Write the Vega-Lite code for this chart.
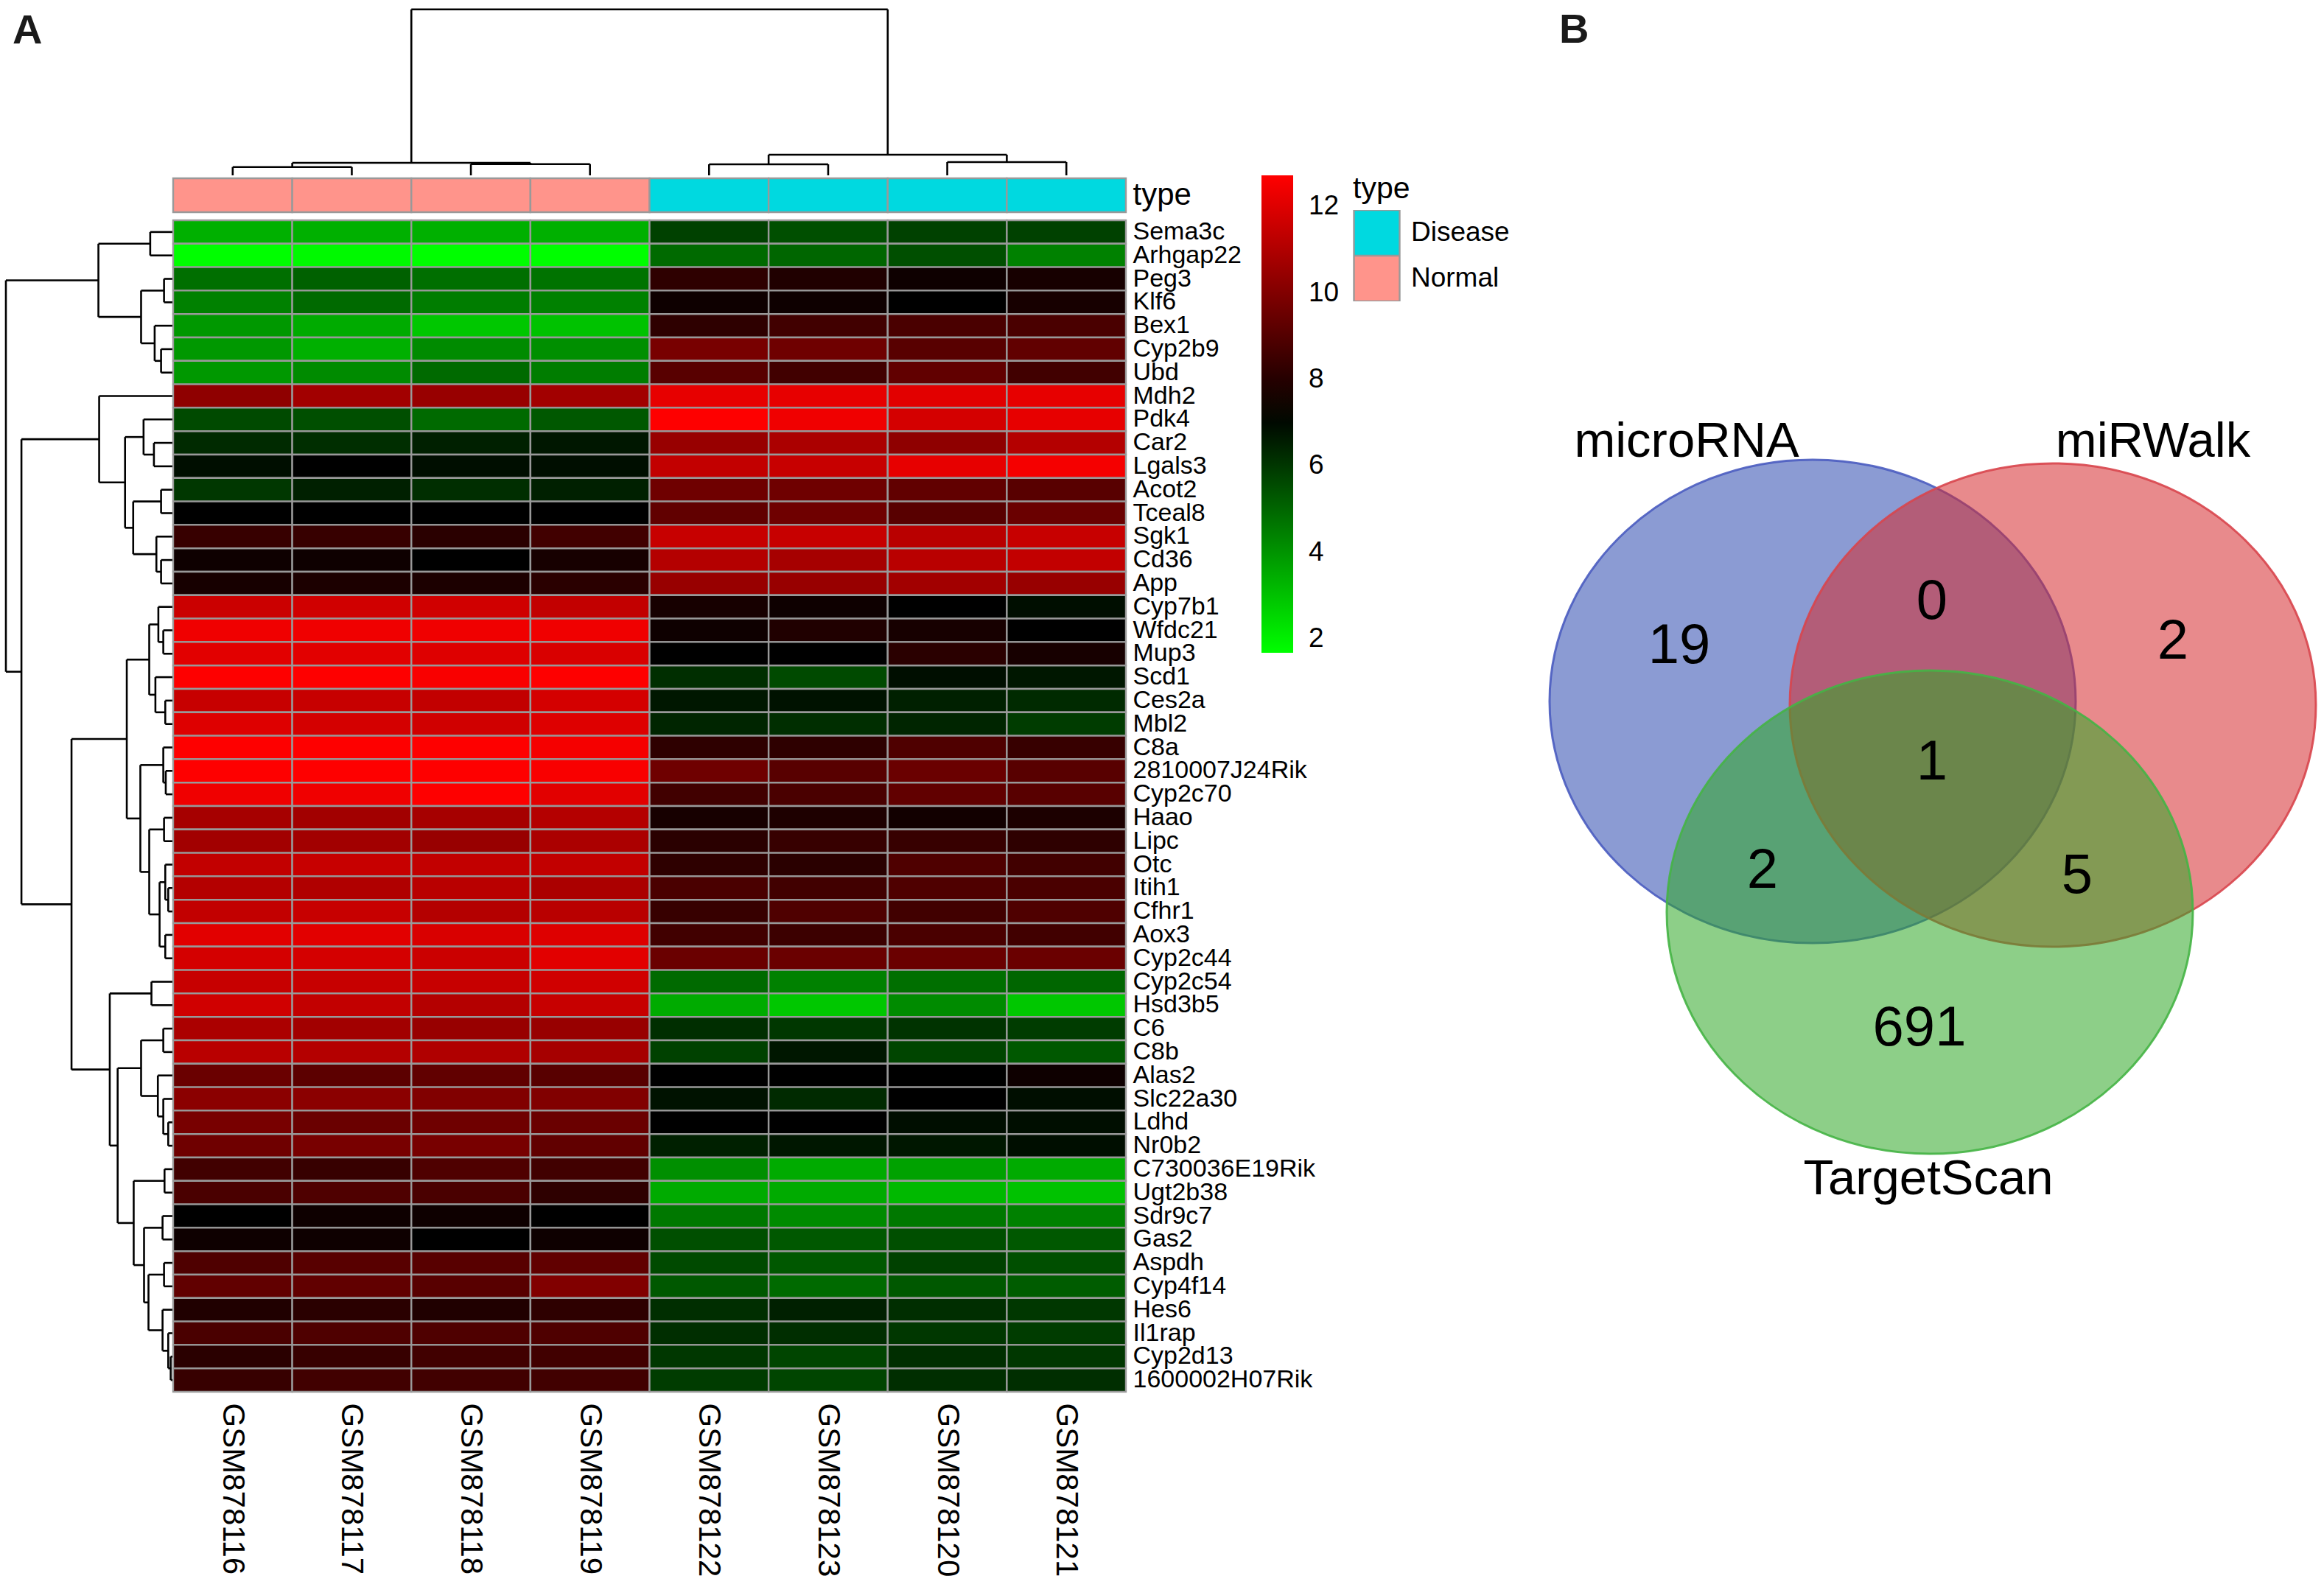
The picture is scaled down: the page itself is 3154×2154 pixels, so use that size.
{
  "$schema": "https://vega.github.io/schema/vega-lite/v6.json",
  "padding": {"left": 6, "top": 11, "right": 2, "bottom": 2},
  "background": "white",
  "config": {
    "view": {"stroke": null},
    "font": "Liberation Sans",
    "axis": {"labelFont": "Liberation Sans", "labelColor": "black", "domain": false, "ticks": false, "grid": false, "title": null},
    "legend": {"labelFont": "Liberation Sans", "titleFont": "Liberation Sans", "labelColor": "black", "titleColor": "black"},
    "title": {"font": "Liberation Sans", "color": "black"}
  },
  "datasets": {
    "colTree": [
      {"h": 11.3, "p1": 1, "p2": 2, "h1": 0, "h2": 0},
      {"h": 15.3, "p1": 3, "p2": 4, "h1": 0, "h2": 0},
      {"h": 17, "p1": 1.5, "p2": 3.5, "h1": 11.3, "h2": 15.3},
      {"h": 15, "p1": 5, "p2": 6, "h1": 0, "h2": 0},
      {"h": 18, "p1": 7, "p2": 8, "h1": 0, "h2": 0},
      {"h": 28, "p1": 5.5, "p2": 7.5, "h1": 15, "h2": 18},
      {"h": 225.3, "p1": 2.5, "p2": 6.5, "h1": 17, "h2": 28}
    ],
    "panelA": [{"label": "A", "x": -0.849, "y": 179}],
    "panelB": [{"label": "B", "x": 58.7, "y": -24.1}],
    "rowTree": [
      {"h": 90, "p1": 1, "p2": 2, "h1": 0, "h2": 0},
      {"h": 34, "p1": 3, "p2": 4, "h1": 0, "h2": 0},
      {"h": 46, "p1": 6, "p2": 7, "h1": 0, "h2": 0},
      {"h": 72, "p1": 5, "p2": 6.5, "h1": 0, "h2": 46},
      {"h": 127, "p1": 3.5, "p2": 5.75, "h1": 34, "h2": 72},
      {"h": 300, "p1": 1.5, "p2": 4.625, "h1": 90, "h2": 127},
      {"h": 75, "p1": 10, "p2": 11, "h1": 0, "h2": 0},
      {"h": 117, "p1": 9, "p2": 10.5, "h1": 0, "h2": 75},
      {"h": 46, "p1": 12, "p2": 13, "h1": 0, "h2": 0},
      {"h": 46, "p1": 15, "p2": 16, "h1": 0, "h2": 0},
      {"h": 65, "p1": 14, "p2": 15.5, "h1": 0, "h2": 46},
      {"h": 159, "p1": 12.5, "p2": 14.75, "h1": 46, "h2": 65},
      {"h": 192, "p1": 9.75, "p2": 13.625, "h1": 117, "h2": 159},
      {"h": 297, "p1": 8, "p2": 11.6875, "h1": 0, "h2": 192},
      {"h": 37, "p1": 18, "p2": 19, "h1": 0, "h2": 0},
      {"h": 57, "p1": 17, "p2": 18.5, "h1": 0, "h2": 37},
      {"h": 29, "p1": 21, "p2": 22, "h1": 0, "h2": 0},
      {"h": 69, "p1": 20, "p2": 21.5, "h1": 0, "h2": 29},
      {"h": 94, "p1": 17.75, "p2": 20.75, "h1": 57, "h2": 69},
      {"h": 27, "p1": 24, "p2": 25, "h1": 0, "h2": 0},
      {"h": 37, "p1": 23, "p2": 24.5, "h1": 0, "h2": 27},
      {"h": 34, "p1": 26, "p2": 27, "h1": 0, "h2": 0},
      {"h": 17, "p1": 29, "p2": 30, "h1": 0, "h2": 0},
      {"h": 29, "p1": 28, "p2": 29.5, "h1": 0, "h2": 17},
      {"h": 29, "p1": 31, "p2": 32, "h1": 0, "h2": 0},
      {"h": 52, "p1": 28.75, "p2": 31.5, "h1": 29, "h2": 29},
      {"h": 94, "p1": 26.5, "p2": 30.125, "h1": 34, "h2": 52},
      {"h": 130, "p1": 23.75, "p2": 28.3125, "h1": 37, "h2": 94},
      {"h": 185, "p1": 19.25, "p2": 26.03125, "h1": 94, "h2": 130},
      {"h": 85, "p1": 33, "p2": 34, "h1": 0, "h2": 0},
      {"h": 37, "p1": 35, "p2": 36, "h1": 0, "h2": 0},
      {"h": 17, "p1": 39, "p2": 40, "h1": 0, "h2": 0},
      {"h": 37, "p1": 38, "p2": 39.5, "h1": 0, "h2": 17},
      {"h": 59, "p1": 37, "p2": 38.75, "h1": 0, "h2": 37},
      {"h": 127, "p1": 35.5, "p2": 37.875, "h1": 37, "h2": 59},
      {"h": 32, "p1": 41, "p2": 42, "h1": 0, "h2": 0},
      {"h": 40, "p1": 43, "p2": 44, "h1": 0, "h2": 0},
      {"h": 34, "p1": 45, "p2": 46, "h1": 0, "h2": 0},
      {"h": 7, "p1": 49, "p2": 50, "h1": 0, "h2": 0},
      {"h": 17, "p1": 48, "p2": 49.5, "h1": 0, "h2": 7},
      {"h": 40, "p1": 47, "p2": 48.75, "h1": 0, "h2": 17},
      {"h": 97, "p1": 45.5, "p2": 47.875, "h1": 34, "h2": 40},
      {"h": 115, "p1": 43.5, "p2": 46.6875, "h1": 40, "h2": 97},
      {"h": 157, "p1": 41.5, "p2": 45.09375, "h1": 32, "h2": 115},
      {"h": 222, "p1": 36.6875, "p2": 43.296875, "h1": 127, "h2": 157},
      {"h": 254, "p1": 33.5, "p2": 39.9921875, "h1": 85, "h2": 222},
      {"h": 409, "p1": 22.640625, "p2": 36.74609, "h1": 185, "h2": 254},
      {"h": 612, "p1": 9.84375, "p2": 29.69336, "h1": 297, "h2": 409},
      {"h": 675, "p1": 3.0625, "p2": 19.76855, "h1": 300, "h2": 612}
    ],
    "types": [
      {"s": "GSM878116", "type": "Normal", "track": "type"},
      {"s": "GSM878117", "type": "Normal", "track": "type"},
      {"s": "GSM878118", "type": "Normal", "track": "type"},
      {"s": "GSM878119", "type": "Normal", "track": "type"},
      {"s": "GSM878122", "type": "Disease", "track": "type"},
      {"s": "GSM878123", "type": "Disease", "track": "type"},
      {"s": "GSM878120", "type": "Disease", "track": "type"},
      {"s": "GSM878121", "type": "Disease", "track": "type"}
    ],
    "cells": [
      {"g":"Sema3c","s":"GSM878116","v":3.4},{"g":"Sema3c","s":"GSM878117","v":3.4},{"g":"Sema3c","s":"GSM878118","v":3.4},{"g":"Sema3c","s":"GSM878119","v":3.4},{"g":"Sema3c","s":"GSM878122","v":5.8},{"g":"Sema3c","s":"GSM878123","v":5.5},{"g":"Sema3c","s":"GSM878120","v":5.8},{"g":"Sema3c","s":"GSM878121","v":5.8},
      {"g":"Arhgap22","s":"GSM878116","v":1.7},{"g":"Arhgap22","s":"GSM878117","v":1.8},{"g":"Arhgap22","s":"GSM878118","v":1.7},{"g":"Arhgap22","s":"GSM878119","v":1.7},{"g":"Arhgap22","s":"GSM878122","v":4.9},{"g":"Arhgap22","s":"GSM878123","v":5.0},{"g":"Arhgap22","s":"GSM878120","v":5.5},{"g":"Arhgap22","s":"GSM878121","v":4.4},
      {"g":"Peg3","s":"GSM878116","v":4.8},{"g":"Peg3","s":"GSM878117","v":5.1},{"g":"Peg3","s":"GSM878118","v":4.8},{"g":"Peg3","s":"GSM878119","v":4.7},{"g":"Peg3","s":"GSM878122","v":8.2},{"g":"Peg3","s":"GSM878123","v":7.9},{"g":"Peg3","s":"GSM878120","v":7.5},{"g":"Peg3","s":"GSM878121","v":7.7},
      {"g":"Klf6","s":"GSM878116","v":4.4},{"g":"Klf6","s":"GSM878117","v":4.9},{"g":"Klf6","s":"GSM878118","v":4.5},{"g":"Klf6","s":"GSM878119","v":4.4},{"g":"Klf6","s":"GSM878122","v":7.5},{"g":"Klf6","s":"GSM878123","v":7.5},{"g":"Klf6","s":"GSM878120","v":7.2},{"g":"Klf6","s":"GSM878121","v":7.7},
      {"g":"Bex1","s":"GSM878116","v":3.9},{"g":"Bex1","s":"GSM878117","v":3.5},{"g":"Bex1","s":"GSM878118","v":2.9},{"g":"Bex1","s":"GSM878119","v":3.0},{"g":"Bex1","s":"GSM878122","v":8.2},{"g":"Bex1","s":"GSM878123","v":8.6},{"g":"Bex1","s":"GSM878120","v":8.8},{"g":"Bex1","s":"GSM878121","v":8.8},
      {"g":"Cyp2b9","s":"GSM878116","v":3.9},{"g":"Cyp2b9","s":"GSM878117","v":3.4},{"g":"Cyp2b9","s":"GSM878118","v":4.2},{"g":"Cyp2b9","s":"GSM878119","v":4.1},{"g":"Cyp2b9","s":"GSM878122","v":9.8},{"g":"Cyp2b9","s":"GSM878123","v":9.6},{"g":"Cyp2b9","s":"GSM878120","v":9.1},{"g":"Cyp2b9","s":"GSM878121","v":9.3},
      {"g":"Ubd","s":"GSM878116","v":3.9},{"g":"Ubd","s":"GSM878117","v":4.2},{"g":"Ubd","s":"GSM878118","v":4.9},{"g":"Ubd","s":"GSM878119","v":4.5},{"g":"Ubd","s":"GSM878122","v":9.1},{"g":"Ubd","s":"GSM878123","v":8.6},{"g":"Ubd","s":"GSM878120","v":9.3},{"g":"Ubd","s":"GSM878121","v":8.6},
      {"g":"Mdh2","s":"GSM878116","v":10.3},{"g":"Mdh2","s":"GSM878117","v":10.7},{"g":"Mdh2","s":"GSM878118","v":10.5},{"g":"Mdh2","s":"GSM878119","v":10.7},{"g":"Mdh2","s":"GSM878122","v":12.2},{"g":"Mdh2","s":"GSM878123","v":12.2},{"g":"Mdh2","s":"GSM878120","v":12.1},{"g":"Mdh2","s":"GSM878121","v":12.2},
      {"g":"Pdk4","s":"GSM878116","v":5.6},{"g":"Pdk4","s":"GSM878117","v":5.5},{"g":"Pdk4","s":"GSM878118","v":4.9},{"g":"Pdk4","s":"GSM878119","v":5.3},{"g":"Pdk4","s":"GSM878122","v":12.7},{"g":"Pdk4","s":"GSM878123","v":12.4},{"g":"Pdk4","s":"GSM878120","v":11.8},{"g":"Pdk4","s":"GSM878121","v":12.2},
      {"g":"Car2","s":"GSM878116","v":6.3},{"g":"Car2","s":"GSM878117","v":6.2},{"g":"Car2","s":"GSM878118","v":6.5},{"g":"Car2","s":"GSM878119","v":6.7},{"g":"Car2","s":"GSM878122","v":10.5},{"g":"Car2","s":"GSM878123","v":10.9},{"g":"Car2","s":"GSM878120","v":10.3},{"g":"Car2","s":"GSM878121","v":11.1},
      {"g":"Lgals3","s":"GSM878116","v":6.9},{"g":"Lgals3","s":"GSM878117","v":7.2},{"g":"Lgals3","s":"GSM878118","v":6.9},{"g":"Lgals3","s":"GSM878119","v":6.9},{"g":"Lgals3","s":"GSM878122","v":11.4},{"g":"Lgals3","s":"GSM878123","v":11.5},{"g":"Lgals3","s":"GSM878120","v":12.2},{"g":"Lgals3","s":"GSM878121","v":12.5},
      {"g":"Acot2","s":"GSM878116","v":6.0},{"g":"Acot2","s":"GSM878117","v":6.5},{"g":"Acot2","s":"GSM878118","v":6.2},{"g":"Acot2","s":"GSM878119","v":6.5},{"g":"Acot2","s":"GSM878122","v":9.6},{"g":"Acot2","s":"GSM878123","v":9.6},{"g":"Acot2","s":"GSM878120","v":9.3},{"g":"Acot2","s":"GSM878121","v":9.1},
      {"g":"Tceal8","s":"GSM878116","v":7.2},{"g":"Tceal8","s":"GSM878117","v":7.2},{"g":"Tceal8","s":"GSM878118","v":7.2},{"g":"Tceal8","s":"GSM878119","v":7.2},{"g":"Tceal8","s":"GSM878122","v":9.3},{"g":"Tceal8","s":"GSM878123","v":9.6},{"g":"Tceal8","s":"GSM878120","v":9.1},{"g":"Tceal8","s":"GSM878121","v":9.5},
      {"g":"Sgk1","s":"GSM878116","v":8.4},{"g":"Sgk1","s":"GSM878117","v":8.4},{"g":"Sgk1","s":"GSM878118","v":8.1},{"g":"Sgk1","s":"GSM878119","v":8.6},{"g":"Sgk1","s":"GSM878122","v":11.5},{"g":"Sgk1","s":"GSM878123","v":11.5},{"g":"Sgk1","s":"GSM878120","v":11.2},{"g":"Sgk1","s":"GSM878121","v":11.5},
      {"g":"Cd36","s":"GSM878116","v":7.5},{"g":"Cd36","s":"GSM878117","v":7.5},{"g":"Cd36","s":"GSM878118","v":7.2},{"g":"Cd36","s":"GSM878119","v":7.7},{"g":"Cd36","s":"GSM878122","v":11.1},{"g":"Cd36","s":"GSM878123","v":10.8},{"g":"Cd36","s":"GSM878120","v":11.2},{"g":"Cd36","s":"GSM878121","v":11.4},
      {"g":"App","s":"GSM878116","v":7.7},{"g":"App","s":"GSM878117","v":7.8},{"g":"App","s":"GSM878118","v":7.8},{"g":"App","s":"GSM878119","v":8.1},{"g":"App","s":"GSM878122","v":10.5},{"g":"App","s":"GSM878123","v":10.5},{"g":"App","s":"GSM878120","v":10.7},{"g":"App","s":"GSM878121","v":10.5},
      {"g":"Cyp7b1","s":"GSM878116","v":11.6},{"g":"Cyp7b1","s":"GSM878117","v":11.7},{"g":"Cyp7b1","s":"GSM878118","v":11.7},{"g":"Cyp7b1","s":"GSM878119","v":11.4},{"g":"Cyp7b1","s":"GSM878122","v":7.7},{"g":"Cyp7b1","s":"GSM878123","v":7.5},{"g":"Cyp7b1","s":"GSM878120","v":7.2},{"g":"Cyp7b1","s":"GSM878121","v":6.9},
      {"g":"Wfdc21","s":"GSM878116","v":12.4},{"g":"Wfdc21","s":"GSM878117","v":12.4},{"g":"Wfdc21","s":"GSM878118","v":12.4},{"g":"Wfdc21","s":"GSM878119","v":12.4},{"g":"Wfdc21","s":"GSM878122","v":7.5},{"g":"Wfdc21","s":"GSM878123","v":7.9},{"g":"Wfdc21","s":"GSM878120","v":7.7},{"g":"Wfdc21","s":"GSM878121","v":7.2},
      {"g":"Mup3","s":"GSM878116","v":12.1},{"g":"Mup3","s":"GSM878117","v":12.1},{"g":"Mup3","s":"GSM878118","v":12.0},{"g":"Mup3","s":"GSM878119","v":11.9},{"g":"Mup3","s":"GSM878122","v":7.2},{"g":"Mup3","s":"GSM878123","v":7.2},{"g":"Mup3","s":"GSM878120","v":8.1},{"g":"Mup3","s":"GSM878121","v":7.7},
      {"g":"Scd1","s":"GSM878116","v":12.7},{"g":"Scd1","s":"GSM878117","v":12.7},{"g":"Scd1","s":"GSM878118","v":12.6},{"g":"Scd1","s":"GSM878119","v":12.7},{"g":"Scd1","s":"GSM878122","v":6.2},{"g":"Scd1","s":"GSM878123","v":5.6},{"g":"Scd1","s":"GSM878120","v":6.9},{"g":"Scd1","s":"GSM878121","v":6.7},
      {"g":"Ces2a","s":"GSM878116","v":11.5},{"g":"Ces2a","s":"GSM878117","v":11.5},{"g":"Ces2a","s":"GSM878118","v":11.4},{"g":"Ces2a","s":"GSM878119","v":11.8},{"g":"Ces2a","s":"GSM878122","v":6.7},{"g":"Ces2a","s":"GSM878123","v":6.8},{"g":"Ces2a","s":"GSM878120","v":6.5},{"g":"Ces2a","s":"GSM878121","v":6.3},
      {"g":"Mbl2","s":"GSM878116","v":12.0},{"g":"Mbl2","s":"GSM878117","v":11.8},{"g":"Mbl2","s":"GSM878118","v":11.7},{"g":"Mbl2","s":"GSM878119","v":12.0},{"g":"Mbl2","s":"GSM878122","v":6.4},{"g":"Mbl2","s":"GSM878123","v":6.2},{"g":"Mbl2","s":"GSM878120","v":6.4},{"g":"Mbl2","s":"GSM878121","v":5.9},
      {"g":"C8a","s":"GSM878116","v":12.7},{"g":"C8a","s":"GSM878117","v":12.7},{"g":"C8a","s":"GSM878118","v":12.7},{"g":"C8a","s":"GSM878119","v":12.5},{"g":"C8a","s":"GSM878122","v":8.2},{"g":"C8a","s":"GSM878123","v":8.2},{"g":"C8a","s":"GSM878120","v":8.9},{"g":"C8a","s":"GSM878121","v":8.4},
      {"g":"2810007J24Rik","s":"GSM878116","v":12.7},{"g":"2810007J24Rik","s":"GSM878117","v":12.7},{"g":"2810007J24Rik","s":"GSM878118","v":12.7},{"g":"2810007J24Rik","s":"GSM878119","v":12.6},{"g":"2810007J24Rik","s":"GSM878122","v":9.6},{"g":"2810007J24Rik","s":"GSM878123","v":9.1},{"g":"2810007J24Rik","s":"GSM878120","v":9.5},{"g":"2810007J24Rik","s":"GSM878121","v":9.1},
      {"g":"Cyp2c70","s":"GSM878116","v":12.4},{"g":"Cyp2c70","s":"GSM878117","v":12.4},{"g":"Cyp2c70","s":"GSM878118","v":12.7},{"g":"Cyp2c70","s":"GSM878119","v":12.1},{"g":"Cyp2c70","s":"GSM878122","v":8.6},{"g":"Cyp2c70","s":"GSM878123","v":8.8},{"g":"Cyp2c70","s":"GSM878120","v":9.3},{"g":"Cyp2c70","s":"GSM878121","v":9.1},
      {"g":"Haao","s":"GSM878116","v":10.8},{"g":"Haao","s":"GSM878117","v":10.7},{"g":"Haao","s":"GSM878118","v":10.8},{"g":"Haao","s":"GSM878119","v":11.1},{"g":"Haao","s":"GSM878122","v":7.7},{"g":"Haao","s":"GSM878123","v":7.85},{"g":"Haao","s":"GSM878120","v":7.6},{"g":"Haao","s":"GSM878121","v":7.8},
      {"g":"Lipc","s":"GSM878116","v":10.7},{"g":"Lipc","s":"GSM878117","v":10.7},{"g":"Lipc","s":"GSM878118","v":10.5},{"g":"Lipc","s":"GSM878119","v":10.9},{"g":"Lipc","s":"GSM878122","v":8.1},{"g":"Lipc","s":"GSM878123","v":8.4},{"g":"Lipc","s":"GSM878120","v":8.4},{"g":"Lipc","s":"GSM878121","v":8.2},
      {"g":"Otc","s":"GSM878116","v":11.4},{"g":"Otc","s":"GSM878117","v":11.5},{"g":"Otc","s":"GSM878118","v":11.4},{"g":"Otc","s":"GSM878119","v":11.4},{"g":"Otc","s":"GSM878122","v":8.2},{"g":"Otc","s":"GSM878123","v":8.1},{"g":"Otc","s":"GSM878120","v":8.9},{"g":"Otc","s":"GSM878121","v":8.6},
      {"g":"Itih1","s":"GSM878116","v":11.1},{"g":"Itih1","s":"GSM878117","v":11.0},{"g":"Itih1","s":"GSM878118","v":11.2},{"g":"Itih1","s":"GSM878119","v":10.9},{"g":"Itih1","s":"GSM878122","v":8.8},{"g":"Itih1","s":"GSM878123","v":8.6},{"g":"Itih1","s":"GSM878120","v":8.9},{"g":"Itih1","s":"GSM878121","v":8.8},
      {"g":"Cfhr1","s":"GSM878116","v":11.4},{"g":"Cfhr1","s":"GSM878117","v":11.5},{"g":"Cfhr1","s":"GSM878118","v":11.1},{"g":"Cfhr1","s":"GSM878119","v":11.2},{"g":"Cfhr1","s":"GSM878122","v":8.4},{"g":"Cfhr1","s":"GSM878123","v":8.9},{"g":"Cfhr1","s":"GSM878120","v":8.6},{"g":"Cfhr1","s":"GSM878121","v":8.9},
      {"g":"Aox3","s":"GSM878116","v":12.1},{"g":"Aox3","s":"GSM878117","v":12.1},{"g":"Aox3","s":"GSM878118","v":11.9},{"g":"Aox3","s":"GSM878119","v":12.0},{"g":"Aox3","s":"GSM878122","v":8.6},{"g":"Aox3","s":"GSM878123","v":8.5},{"g":"Aox3","s":"GSM878120","v":8.8},{"g":"Aox3","s":"GSM878121","v":8.6},
      {"g":"Cyp2c44","s":"GSM878116","v":11.8},{"g":"Cyp2c44","s":"GSM878117","v":11.8},{"g":"Cyp2c44","s":"GSM878118","v":11.6},{"g":"Cyp2c44","s":"GSM878119","v":12.1},{"g":"Cyp2c44","s":"GSM878122","v":9.5},{"g":"Cyp2c44","s":"GSM878123","v":9.5},{"g":"Cyp2c44","s":"GSM878120","v":9.5},{"g":"Cyp2c44","s":"GSM878121","v":9.5},
      {"g":"Cyp2c54","s":"GSM878116","v":11.5},{"g":"Cyp2c54","s":"GSM878117","v":11.5},{"g":"Cyp2c54","s":"GSM878118","v":11.5},{"g":"Cyp2c54","s":"GSM878119","v":11.7},{"g":"Cyp2c54","s":"GSM878122","v":4.9},{"g":"Cyp2c54","s":"GSM878123","v":4.4},{"g":"Cyp2c54","s":"GSM878120","v":4.8},{"g":"Cyp2c54","s":"GSM878121","v":5.0},
      {"g":"Hsd3b5","s":"GSM878116","v":11.7},{"g":"Hsd3b5","s":"GSM878117","v":11.4},{"g":"Hsd3b5","s":"GSM878118","v":11.1},{"g":"Hsd3b5","s":"GSM878119","v":11.5},{"g":"Hsd3b5","s":"GSM878122","v":3.5},{"g":"Hsd3b5","s":"GSM878123","v":2.9},{"g":"Hsd3b5","s":"GSM878120","v":4.2},{"g":"Hsd3b5","s":"GSM878121","v":2.9},
      {"g":"C6","s":"GSM878116","v":10.9},{"g":"C6","s":"GSM878117","v":10.7},{"g":"C6","s":"GSM878118","v":10.5},{"g":"C6","s":"GSM878119","v":10.5},{"g":"C6","s":"GSM878122","v":6.2},{"g":"C6","s":"GSM878123","v":6.0},{"g":"C6","s":"GSM878120","v":6.1},{"g":"C6","s":"GSM878121","v":5.9},
      {"g":"C8b","s":"GSM878116","v":11.2},{"g":"C8b","s":"GSM878117","v":11.1},{"g":"C8b","s":"GSM878118","v":11.0},{"g":"C8b","s":"GSM878119","v":10.8},{"g":"C8b","s":"GSM878122","v":5.8},{"g":"C8b","s":"GSM878123","v":6.7},{"g":"C8b","s":"GSM878120","v":5.7},{"g":"C8b","s":"GSM878121","v":5.3},
      {"g":"Alas2","s":"GSM878116","v":9.5},{"g":"Alas2","s":"GSM878117","v":9.2},{"g":"Alas2","s":"GSM878118","v":9.3},{"g":"Alas2","s":"GSM878119","v":9.1},{"g":"Alas2","s":"GSM878122","v":7.2},{"g":"Alas2","s":"GSM878123","v":7.2},{"g":"Alas2","s":"GSM878120","v":7.2},{"g":"Alas2","s":"GSM878121","v":7.5},
      {"g":"Slc22a30","s":"GSM878116","v":10.2},{"g":"Slc22a30","s":"GSM878117","v":10.2},{"g":"Slc22a30","s":"GSM878118","v":10.0},{"g":"Slc22a30","s":"GSM878119","v":10.0},{"g":"Slc22a30","s":"GSM878122","v":6.8},{"g":"Slc22a30","s":"GSM878123","v":6.3},{"g":"Slc22a30","s":"GSM878120","v":7.2},{"g":"Slc22a30","s":"GSM878121","v":6.9},
      {"g":"Ldhd","s":"GSM878116","v":9.8},{"g":"Ldhd","s":"GSM878117","v":9.5},{"g":"Ldhd","s":"GSM878118","v":9.6},{"g":"Ldhd","s":"GSM878119","v":9.5},{"g":"Ldhd","s":"GSM878122","v":7.2},{"g":"Ldhd","s":"GSM878123","v":7.2},{"g":"Ldhd","s":"GSM878120","v":6.9},{"g":"Ldhd","s":"GSM878121","v":6.9},
      {"g":"Nr0b2","s":"GSM878116","v":9.6},{"g":"Nr0b2","s":"GSM878117","v":9.8},{"g":"Nr0b2","s":"GSM878118","v":9.8},{"g":"Nr0b2","s":"GSM878119","v":9.3},{"g":"Nr0b2","s":"GSM878122","v":6.5},{"g":"Nr0b2","s":"GSM878123","v":6.7},{"g":"Nr0b2","s":"GSM878120","v":6.7},{"g":"Nr0b2","s":"GSM878121","v":6.9},
      {"g":"C730036E19Rik","s":"GSM878116","v":8.6},{"g":"C730036E19Rik","s":"GSM878117","v":8.4},{"g":"C730036E19Rik","s":"GSM878118","v":8.9},{"g":"C730036E19Rik","s":"GSM878119","v":8.6},{"g":"C730036E19Rik","s":"GSM878122","v":4.1},{"g":"C730036E19Rik","s":"GSM878123","v":3.5},{"g":"C730036E19Rik","s":"GSM878120","v":3.7},{"g":"C730036E19Rik","s":"GSM878121","v":3.5},
      {"g":"Ugt2b38","s":"GSM878116","v":8.8},{"g":"Ugt2b38","s":"GSM878117","v":8.9},{"g":"Ugt2b38","s":"GSM878118","v":8.8},{"g":"Ugt2b38","s":"GSM878119","v":8.2},{"g":"Ugt2b38","s":"GSM878122","v":3.5},{"g":"Ugt2b38","s":"GSM878123","v":3.5},{"g":"Ugt2b38","s":"GSM878120","v":3.2},{"g":"Ugt2b38","s":"GSM878121","v":3.0},
      {"g":"Sdr9c7","s":"GSM878116","v":7.2},{"g":"Sdr9c7","s":"GSM878117","v":7.5},{"g":"Sdr9c7","s":"GSM878118","v":7.5},{"g":"Sdr9c7","s":"GSM878119","v":7.2},{"g":"Sdr9c7","s":"GSM878122","v":4.6},{"g":"Sdr9c7","s":"GSM878123","v":4.2},{"g":"Sdr9c7","s":"GSM878120","v":4.6},{"g":"Sdr9c7","s":"GSM878121","v":4.4},
      {"g":"Gas2","s":"GSM878116","v":7.5},{"g":"Gas2","s":"GSM878117","v":7.5},{"g":"Gas2","s":"GSM878118","v":7.2},{"g":"Gas2","s":"GSM878119","v":7.5},{"g":"Gas2","s":"GSM878122","v":5.5},{"g":"Gas2","s":"GSM878123","v":5.3},{"g":"Gas2","s":"GSM878120","v":5.5},{"g":"Gas2","s":"GSM878121","v":5.3},
      {"g":"Aspdh","s":"GSM878116","v":8.9},{"g":"Aspdh","s":"GSM878117","v":9.1},{"g":"Aspdh","s":"GSM878118","v":9.1},{"g":"Aspdh","s":"GSM878119","v":9.3},{"g":"Aspdh","s":"GSM878122","v":5.6},{"g":"Aspdh","s":"GSM878123","v":5.3},{"g":"Aspdh","s":"GSM878120","v":5.8},{"g":"Aspdh","s":"GSM878121","v":5.5},
      {"g":"Cyp4f14","s":"GSM878116","v":9.3},{"g":"Cyp4f14","s":"GSM878117","v":9.3},{"g":"Cyp4f14","s":"GSM878118","v":9.1},{"g":"Cyp4f14","s":"GSM878119","v":10.0},{"g":"Cyp4f14","s":"GSM878122","v":5.3},{"g":"Cyp4f14","s":"GSM878123","v":4.9},{"g":"Cyp4f14","s":"GSM878120","v":5.3},{"g":"Cyp4f14","s":"GSM878121","v":5.2},
      {"g":"Hes6","s":"GSM878116","v":7.9},{"g":"Hes6","s":"GSM878117","v":8.1},{"g":"Hes6","s":"GSM878118","v":7.9},{"g":"Hes6","s":"GSM878119","v":8.2},{"g":"Hes6","s":"GSM878122","v":6.2},{"g":"Hes6","s":"GSM878123","v":6.5},{"g":"Hes6","s":"GSM878120","v":6.2},{"g":"Hes6","s":"GSM878121","v":6.0},
      {"g":"Il1rap","s":"GSM878116","v":8.8},{"g":"Il1rap","s":"GSM878117","v":8.9},{"g":"Il1rap","s":"GSM878118","v":8.9},{"g":"Il1rap","s":"GSM878119","v":8.9},{"g":"Il1rap","s":"GSM878122","v":6.2},{"g":"Il1rap","s":"GSM878123","v":6.2},{"g":"Il1rap","s":"GSM878120","v":6.0},{"g":"Il1rap","s":"GSM878121","v":5.9},
      {"g":"Cyp2d13","s":"GSM878116","v":8.1},{"g":"Cyp2d13","s":"GSM878117","v":8.4},{"g":"Cyp2d13","s":"GSM878118","v":8.6},{"g":"Cyp2d13","s":"GSM878119","v":8.6},{"g":"Cyp2d13","s":"GSM878122","v":6.0},{"g":"Cyp2d13","s":"GSM878123","v":5.7},{"g":"Cyp2d13","s":"GSM878120","v":6.2},{"g":"Cyp2d13","s":"GSM878121","v":6.0},
      {"g":"1600002H07Rik","s":"GSM878116","v":8.4},{"g":"1600002H07Rik","s":"GSM878117","v":8.6},{"g":"1600002H07Rik","s":"GSM878118","v":8.6},{"g":"1600002H07Rik","s":"GSM878119","v":8.6},{"g":"1600002H07Rik","s":"GSM878122","v":5.9},{"g":"1600002H07Rik","s":"GSM878123","v":5.7},{"g":"1600002H07Rik","s":"GSM878120","v":6.2},{"g":"1600002H07Rik","s":"GSM878121","v":6.2}
    ],
    "sets": [
      {"set": "microRNA", "cx": 93.1, "cy": 65.3},
      {"set": "miRWalk", "cx": 125.7, "cy": 65.8},
      {"set": "TargetScan", "cx": 109.0, "cy": 93.9}
    ],
    "setLabels": [
      {"label": "microRNA", "x": 76.0, "y": 30.1},
      {"label": "miRWalk", "x": 139.3, "y": 30.1},
      {"label": "TargetScan", "x": 108.8, "y": 130.2}
    ],
    "counts": [
      {"label": "19", "x": 75.0, "y": 57.8},
      {"label": "0", "x": 109.3, "y": 51.8},
      {"label": "2", "x": 142.0, "y": 57.2},
      {"label": "1", "x": 109.3, "y": 73.6},
      {"label": "2", "x": 86.3, "y": 88.3},
      {"label": "5", "x": 129.0, "y": 89.0},
      {"label": "691", "x": 107.6, "y": 109.7}
    ]
  },
  "columns": 3,
  "spacing": {"row": 11, "column": 1},
  "bounds": "flush",
  "concat": [
    {
      "width": 226, "height": 219,
      "data": {"values": [{}]},
      "mark": {"type": "text", "text": ""},
      "encoding": {}
    },
    {
      "width": 1293, "height": 219,
      "layer": [
        {
          "data": {"name": "colTree"},
          "mark": {"type": "rule", "strokeWidth": 2.6, "color": "black"},
          "encoding": {
            "x": {"field": "p1", "type": "quantitative", "scale": {"domain": [0.5, 8.5], "nice": false, "zero": false}, "axis": null},
            "x2": {"field": "p2"},
            "y": {"field": "h", "type": "quantitative", "scale": {"domain": [7, 226], "nice": false, "zero": false}, "axis": null}
          }
        },
        {
          "data": {"name": "colTree"},
          "mark": {"type": "rule", "strokeWidth": 2.6, "color": "black"},
          "encoding": {
            "x": {"field": "p1", "type": "quantitative", "axis": null},
            "y": {"field": "h", "type": "quantitative", "axis": null},
            "y2": {"field": "h1"}
          }
        },
        {
          "data": {"name": "colTree"},
          "mark": {"type": "rule", "strokeWidth": 2.6, "color": "black"},
          "encoding": {
            "x": {"field": "p2", "type": "quantitative", "axis": null},
            "y": {"field": "h", "type": "quantitative", "axis": null},
            "y2": {"field": "h2"}
          }
        },
        {
          "data": {"name": "panelA"},
          "mark": {"type": "text", "fontSize": 56, "fontWeight": "bold", "align": "left", "baseline": "alphabetic", "color": "#1a1a1a"},
          "encoding": {
            "x": {"field": "x", "type": "quantitative", "axis": null},
            "y": {"field": "y", "type": "quantitative", "axis": null},
            "text": {"field": "label"}
          }
        }
      ]
    },
    {
      "width": 1612, "height": 219,
      "data": {"values": [{}]},
      "mark": {"type": "text", "text": ""},
      "encoding": {}
    },
    {
      "width": 226, "height": 46,
      "data": {"values": [{}]},
      "mark": {"type": "text", "text": ""},
      "encoding": {}
    },
    {
      "width": 1293, "height": 46,
      "data": {"name": "types"},
      "mark": {"type": "rect", "stroke": "#999999", "strokeWidth": 2.4},
      "encoding": {
        "x": {"field": "s", "type": "nominal", "sort": ["GSM878116","GSM878117","GSM878118","GSM878119","GSM878122","GSM878123","GSM878120","GSM878121"], "scale": {"paddingInner": 0, "paddingOuter": 0}, "axis": null},
        "y": {"field": "track", "type": "nominal", "scale": {"paddingInner": 0, "paddingOuter": 0}, "axis": {"orient": "right", "labelFontSize": 42, "labelPadding": 9, "title": null}},
        "color": {
          "field": "type", "type": "nominal",
          "scale": {"domain": ["Disease", "Normal"], "range": ["#00D9E0", "#FF948B"]},
          "legend": {"orient": "none", "legendX": 1601, "legendY": -5, "title": "type", "titleFontSize": 41, "titleFontWeight": "normal", "titlePadding": 7, "labelFontSize": 37, "labelOffset": 14, "symbolType": "square", "symbolSize": 3844, "symbolStrokeColor": "#999999", "symbolStrokeWidth": 2.4, "symbolOpacity": 1, "clipHeight": 62, "rowPadding": 0, "padding": 0}
        }
      }
    },
    {
      "width": 1612, "height": 46,
      "data": {"values": [{}]},
      "mark": {"type": "text", "text": ""},
      "encoding": {}
    },
    {
      "width": 226, "height": 1590,
      "data": {"name": "rowTree"},
      "layer": [
        {
          "mark": {"type": "rule", "strokeWidth": 2.6, "color": "black"},
          "encoding": {
            "x": {"field": "h", "type": "quantitative", "scale": {"domain": [0, 675], "reverse": true, "nice": false, "zero": false}, "axis": null},
            "y": {"field": "p1", "type": "quantitative", "scale": {"domain": [0.5, 50.5], "reverse": true, "nice": false, "zero": false}, "axis": null},
            "y2": {"field": "p2"}
          }
        },
        {
          "mark": {"type": "rule", "strokeWidth": 2.6, "color": "black"},
          "encoding": {
            "x": {"field": "h", "type": "quantitative", "axis": null},
            "x2": {"field": "h1"},
            "y": {"field": "p1", "type": "quantitative", "axis": null}
          }
        },
        {
          "mark": {"type": "rule", "strokeWidth": 2.6, "color": "black"},
          "encoding": {
            "x": {"field": "h", "type": "quantitative", "axis": null},
            "x2": {"field": "h2"},
            "y": {"field": "p2", "type": "quantitative", "axis": null}
          }
        }
      ]
    },
    {
      "width": 1293, "height": 1590,
      "data": {"name": "cells"},
      "mark": {"type": "rect", "stroke": "#999999", "strokeWidth": 2.4},
      "encoding": {
        "x": {"field": "s", "type": "nominal", "sort": ["GSM878116","GSM878117","GSM878118","GSM878119","GSM878122","GSM878123","GSM878120","GSM878121"], "scale": {"paddingInner": 0, "paddingOuter": 0},
              "axis": {"orient": "bottom", "labelAngle": 90, "labelFontSize": 42, "labelPadding": 15, "labelAlign": "left", "labelBaseline": "middle", "labelLimit": 500, "title": null}},
        "y": {"field": "g", "type": "nominal", "sort": ["Sema3c","Arhgap22","Peg3","Klf6","Bex1","Cyp2b9","Ubd","Mdh2","Pdk4","Car2","Lgals3","Acot2","Tceal8","Sgk1","Cd36","App","Cyp7b1","Wfdc21","Mup3","Scd1","Ces2a","Mbl2","C8a","2810007J24Rik","Cyp2c70","Haao","Lipc","Otc","Itih1","Cfhr1","Aox3","Cyp2c44","Cyp2c54","Hsd3b5","C6","C8b","Alas2","Slc22a30","Ldhd","Nr0b2","C730036E19Rik","Ugt2b38","Sdr9c7","Gas2","Aspdh","Cyp4f14","Hes6","Il1rap","Cyp2d13","1600002H07Rik"],
              "scale": {"paddingInner": 0, "paddingOuter": 0},
              "axis": {"orient": "right", "labelFontSize": 34, "labelPadding": 9, "labelLimit": 600, "title": null}},
        "color": {
          "field": "v", "type": "quantitative",
          "scale": {"domain": [1.68, 7.2, 12.72], "range": ["#00ff00", "#000000", "#ff0000"], "interpolate": "rgb"},
          "legend": {"orient": "none", "legendX": 1477, "legendY": -61, "title": null, "direction": "vertical", "gradientLength": 648, "gradientThickness": 43, "gradientStrokeWidth": 0, "values": [2, 4, 6, 8, 10, 12], "labelFontSize": 37, "labelOffset": 21, "labelOverlap": false, "padding": 0}
        }
      }
    },
    {
      "width": 1612, "height": 1590,
      "layer": [
        {
          "data": {"name": "sets"},
          "mark": {"type": "point", "shape": "M -1 0 A 1 0.919 0 1 0 1 0 A 1 0.919 0 1 0 -1 0 Z", "size": 509796, "filled": true, "opacity": 1, "fillOpacity": 0.55, "strokeWidth": 3, "strokeOpacity": 0.9},
          "encoding": {
            "x": {"field": "cx", "type": "quantitative", "scale": {"domain": [0, 161.2], "nice": false, "zero": false}, "axis": null},
            "y": {"field": "cy", "type": "quantitative", "scale": {"domain": [0, 159], "reverse": true, "nice": false, "zero": false}, "axis": null},
            "fill": {"field": "set", "type": "nominal", "scale": {"domain": ["microRNA", "miRWalk", "TargetScan"], "range": ["#2c49af", "#d52a2e", "#2fa827"]}, "legend": null},
            "stroke": {"field": "set", "type": "nominal", "scale": {"domain": ["microRNA", "miRWalk", "TargetScan"], "range": ["#4a5cc0", "#d8454d", "#45b445"]}, "legend": null}
          }
        },
        {
          "data": {"name": "setLabels"},
          "mark": {"type": "text", "fontSize": 67, "align": "center", "baseline": "middle", "color": "black"},
          "encoding": {
            "x": {"field": "x", "type": "quantitative", "axis": null},
            "y": {"field": "y", "type": "quantitative", "axis": null},
            "text": {"field": "label"}
          }
        },
        {
          "data": {"name": "counts"},
          "mark": {"type": "text", "fontSize": 76, "align": "center", "baseline": "middle", "color": "black"},
          "encoding": {
            "x": {"field": "x", "type": "quantitative", "axis": null},
            "y": {"field": "y", "type": "quantitative", "axis": null},
            "text": {"field": "label"}
          }
        },
        {
          "data": {"name": "panelB"},
          "mark": {"type": "text", "fontSize": 56, "fontWeight": "bold", "align": "left", "baseline": "alphabetic", "color": "#1a1a1a"},
          "encoding": {
            "x": {"field": "x", "type": "quantitative", "axis": null},
            "y": {"field": "y", "type": "quantitative", "axis": null},
            "text": {"field": "label"}
          }
        }
      ]
    }
  ]
}
